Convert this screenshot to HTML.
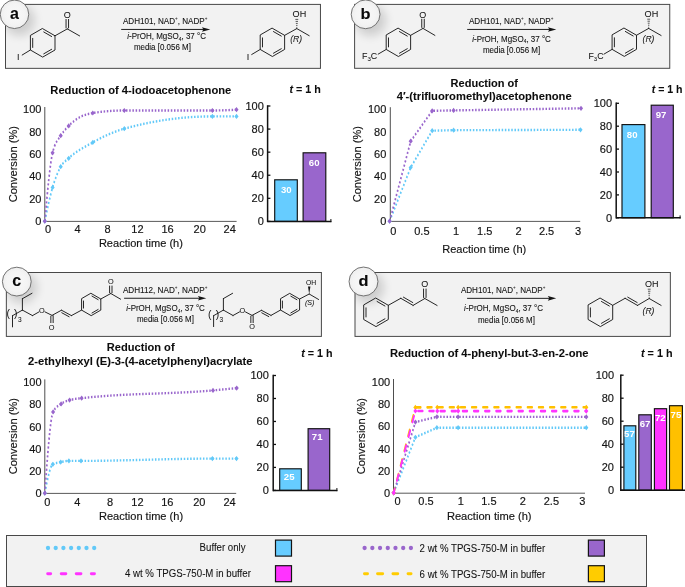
<!DOCTYPE html>
<html lang="en"><head><meta charset="utf-8"><title>Figure</title>
<style>html,body{margin:0;padding:0;background:#fff}svg{display:block}text{font-family:'Liberation Sans', Arial, Helvetica, sans-serif;}</style>
</head><body>
<svg width="685" height="587" viewBox="0 0 685 587" font-family="Liberation Sans, Arial, Helvetica, sans-serif" fill="#141414">
<defs>
<filter id="sh" x="-60%" y="-60%" width="260%" height="260%"><feGaussianBlur stdDeviation="5"/></filter>
<radialGradient id="bg" cx="50%" cy="50%" r="50%"><stop offset="0" stop-color="#f8f8f8"/><stop offset="0.7" stop-color="#f4f4f4"/><stop offset="1" stop-color="#eeeeee"/></radialGradient>
</defs>
<rect width="685" height="587" fill="#ffffff"/>
<clipPath id="cA"><rect x="5.5" y="4.4" width="314.95" height="63.95"/></clipPath>
<rect x="5.5" y="4.4" width="314.95" height="63.95" fill="#f2f2f2" stroke="#484848" stroke-width="1"/>
<g clip-path="url(#cA)"><circle cx="19.50" cy="20.30" r="15.25" fill="#000" opacity="0.15" filter="url(#sh)"/></g>
<circle cx="14.5" cy="14.3" r="14.25" fill="url(#bg)" stroke="#5c5c5c" stroke-width="0.85"/>
<text x="14.50" y="18.90" font-size="16" text-anchor="middle" font-weight="bold" fill="#0a0a0a" stroke="#0a0a0a" stroke-width="0.1">a</text>
<path d="M42.70 28.70 L55.00 35.80 L55.00 50.00 L42.70 57.10 L30.40 50.00 L30.40 35.80 Z" fill="none" stroke="#141414" stroke-width="0.92" stroke-linecap="round" stroke-linejoin="round"/>
<line x1="43.76" y1="31.97" x2="51.63" y2="36.51" stroke="#141414" stroke-width="0.92" stroke-linecap="round" />
<line x1="51.63" y1="49.29" x2="43.76" y2="53.83" stroke="#141414" stroke-width="0.92" stroke-linecap="round" />
<line x1="32.70" y1="47.44" x2="32.70" y2="38.36" stroke="#141414" stroke-width="0.92" stroke-linecap="round" />
<line x1="55.00" y1="35.80" x2="67.30" y2="28.90" stroke="#141414" stroke-width="0.92" stroke-linecap="round" />
<line x1="67.30" y1="28.90" x2="79.60" y2="35.90" stroke="#141414" stroke-width="0.92" stroke-linecap="round" />
<line x1="66.05" y1="28.30" x2="66.05" y2="19.00" stroke="#141414" stroke-width="0.92" stroke-linecap="butt" />
<line x1="68.55" y1="28.30" x2="68.55" y2="19.00" stroke="#141414" stroke-width="0.92" stroke-linecap="butt" />
<text x="67.30" y="17.70" font-size="9" text-anchor="middle" stroke="#141414" stroke-width="0.05">O</text>
<line x1="30.40" y1="50.00" x2="22.20" y2="55.00" stroke="#141414" stroke-width="0.92" stroke-linecap="round" />
<text x="18.30" y="60.20" font-size="9" text-anchor="middle" stroke="#141414" stroke-width="0.05">I</text>
<line x1="121.20" y1="29.45" x2="205.30" y2="29.45" stroke="#141414" stroke-width="0.95" stroke-linecap="butt" />
<path d="M210.30 29.45 L201.90 27.15 L203.40 29.45 L201.90 31.75 Z" fill="#141414"/>
<text x="122.90" y="23.60" font-size="8.5" textLength="84.50" lengthAdjust="spacingAndGlyphs" stroke="#141414" stroke-width="0.1">ADH101, NAD<tspan font-size="4.8" dy="-3.8" stroke-width="0">+</tspan><tspan dy="3.8">, NADP</tspan><tspan font-size="4.8" dy="-3.8" stroke-width="0">+</tspan></text>
<text x="127.30" y="39.30" font-size="8.5" textLength="78.70" lengthAdjust="spacingAndGlyphs" stroke="#141414" stroke-width="0.1"><tspan font-style="italic">i</tspan>-PrOH, MgSO<tspan font-size="5.2" dy="1.8">4</tspan><tspan dy="-1.8">, 37 °C</tspan></text>
<text x="133.90" y="49.80" font-size="8.5" textLength="57.00" lengthAdjust="spacingAndGlyphs" stroke="#141414" stroke-width="0.1">media [0.056 M]</text>
<path d="M272.40 28.30 L284.61 35.35 L284.61 49.45 L272.40 56.50 L260.19 49.45 L260.19 35.35 Z" fill="none" stroke="#141414" stroke-width="0.92" stroke-linecap="round" stroke-linejoin="round"/>
<line x1="273.45" y1="31.56" x2="281.26" y2="36.07" stroke="#141414" stroke-width="0.92" stroke-linecap="round" />
<line x1="281.26" y1="48.73" x2="273.45" y2="53.24" stroke="#141414" stroke-width="0.92" stroke-linecap="round" />
<line x1="262.49" y1="46.91" x2="262.49" y2="37.89" stroke="#141414" stroke-width="0.92" stroke-linecap="round" />
<line x1="284.61" y1="35.35" x2="296.80" y2="28.60" stroke="#141414" stroke-width="0.92" stroke-linecap="round" />
<line x1="296.80" y1="28.60" x2="309.20" y2="35.70" stroke="#141414" stroke-width="0.92" stroke-linecap="round" />
<line x1="296.39" y1="27.40" x2="297.21" y2="27.40" stroke="#141414" stroke-width="0.7" stroke-linecap="butt" />
<line x1="296.13" y1="25.40" x2="297.47" y2="25.40" stroke="#141414" stroke-width="0.7" stroke-linecap="butt" />
<line x1="295.87" y1="23.40" x2="297.73" y2="23.40" stroke="#141414" stroke-width="0.7" stroke-linecap="butt" />
<line x1="295.61" y1="21.40" x2="297.99" y2="21.40" stroke="#141414" stroke-width="0.7" stroke-linecap="butt" />
<line x1="295.35" y1="19.40" x2="298.25" y2="19.40" stroke="#141414" stroke-width="0.7" stroke-linecap="butt" />
<text x="292.60" y="17.30" font-size="9" textLength="13.60" lengthAdjust="spacingAndGlyphs" stroke="#141414" stroke-width="0.05">OH</text>
<text x="290.20" y="42.00" font-size="8.55" font-style="italic" stroke="#141414" stroke-width="0.05">(R)</text>
<line x1="260.19" y1="49.45" x2="251.70" y2="54.50" stroke="#141414" stroke-width="0.92" stroke-linecap="round" />
<text x="247.90" y="59.80" font-size="9" text-anchor="middle" stroke="#141414" stroke-width="0.05">I</text>
<clipPath id="cB"><rect x="354.6" y="4.4" width="315.15" height="63.90"/></clipPath>
<rect x="354.6" y="4.4" width="315.15" height="63.90" fill="#f2f2f2" stroke="#484848" stroke-width="1"/>
<g clip-path="url(#cB)"><circle cx="370.60" cy="20.30" r="15.40" fill="#000" opacity="0.15" filter="url(#sh)"/></g>
<circle cx="365.6" cy="14.3" r="14.4" fill="url(#bg)" stroke="#5c5c5c" stroke-width="0.85"/>
<text x="360.60" y="18.90" font-size="15.2" font-weight="bold" fill="#0a0a0a" textLength="10.00" lengthAdjust="spacingAndGlyphs" stroke="#0a0a0a" stroke-width="0.1">b</text>
<path d="M398.40 28.30 L410.61 35.35 L410.61 49.45 L398.40 56.50 L386.19 49.45 L386.19 35.35 Z" fill="none" stroke="#141414" stroke-width="0.92" stroke-linecap="round" stroke-linejoin="round"/>
<line x1="399.45" y1="31.56" x2="407.26" y2="36.07" stroke="#141414" stroke-width="0.92" stroke-linecap="round" />
<line x1="407.26" y1="48.73" x2="399.45" y2="53.24" stroke="#141414" stroke-width="0.92" stroke-linecap="round" />
<line x1="388.49" y1="46.91" x2="388.49" y2="37.89" stroke="#141414" stroke-width="0.92" stroke-linecap="round" />
<line x1="410.61" y1="35.35" x2="423.00" y2="28.40" stroke="#141414" stroke-width="0.92" stroke-linecap="round" />
<line x1="423.00" y1="28.40" x2="434.90" y2="35.40" stroke="#141414" stroke-width="0.92" stroke-linecap="round" />
<line x1="421.75" y1="27.80" x2="421.75" y2="18.80" stroke="#141414" stroke-width="0.92" stroke-linecap="butt" />
<line x1="424.25" y1="27.80" x2="424.25" y2="18.80" stroke="#141414" stroke-width="0.92" stroke-linecap="butt" />
<text x="422.80" y="17.50" font-size="9" text-anchor="middle" stroke="#141414" stroke-width="0.05">O</text>
<line x1="386.19" y1="49.45" x2="378.20" y2="54.10" stroke="#141414" stroke-width="0.92" stroke-linecap="round" />
<text x="362.00" y="59.40" font-size="9" textLength="15.20" lengthAdjust="spacingAndGlyphs" stroke="#141414" stroke-width="0.05">F<tspan font-size="6.2" dy="1.9">3</tspan><tspan dy="-1.9">C</tspan></text>
<line x1="467.20" y1="29.45" x2="551.30" y2="29.45" stroke="#141414" stroke-width="0.95" stroke-linecap="butt" />
<path d="M556.30 29.45 L547.90 27.15 L549.40 29.45 L547.90 31.75 Z" fill="#141414"/>
<text x="468.90" y="23.60" font-size="8.5" textLength="84.50" lengthAdjust="spacingAndGlyphs" stroke="#141414" stroke-width="0.1">ADH101, NAD<tspan font-size="4.8" dy="-3.8" stroke-width="0">+</tspan><tspan dy="3.8">, NADP</tspan><tspan font-size="4.8" dy="-3.8" stroke-width="0">+</tspan></text>
<text x="472.20" y="41.50" font-size="8.5" textLength="78.70" lengthAdjust="spacingAndGlyphs" stroke="#141414" stroke-width="0.1"><tspan font-style="italic">i</tspan>-PrOH, MgSO<tspan font-size="5.2" dy="1.8">4</tspan><tspan dy="-1.8">, 37 °C</tspan></text>
<text x="482.90" y="52.80" font-size="8.5" textLength="57.30" lengthAdjust="spacingAndGlyphs" stroke="#141414" stroke-width="0.1">media [0.056 M]</text>
<path d="M624.30 28.20 L636.51 35.25 L636.51 49.35 L624.30 56.40 L612.09 49.35 L612.09 35.25 Z" fill="none" stroke="#141414" stroke-width="0.92" stroke-linecap="round" stroke-linejoin="round"/>
<line x1="625.35" y1="31.46" x2="633.16" y2="35.97" stroke="#141414" stroke-width="0.92" stroke-linecap="round" />
<line x1="633.16" y1="48.63" x2="625.35" y2="53.14" stroke="#141414" stroke-width="0.92" stroke-linecap="round" />
<line x1="614.39" y1="46.81" x2="614.39" y2="37.79" stroke="#141414" stroke-width="0.92" stroke-linecap="round" />
<line x1="636.51" y1="35.25" x2="648.70" y2="28.40" stroke="#141414" stroke-width="0.92" stroke-linecap="round" />
<line x1="648.70" y1="28.40" x2="661.10" y2="35.50" stroke="#141414" stroke-width="0.92" stroke-linecap="round" />
<line x1="648.29" y1="27.20" x2="649.11" y2="27.20" stroke="#141414" stroke-width="0.7" stroke-linecap="butt" />
<line x1="648.03" y1="25.20" x2="649.37" y2="25.20" stroke="#141414" stroke-width="0.7" stroke-linecap="butt" />
<line x1="647.77" y1="23.20" x2="649.63" y2="23.20" stroke="#141414" stroke-width="0.7" stroke-linecap="butt" />
<line x1="647.51" y1="21.20" x2="649.89" y2="21.20" stroke="#141414" stroke-width="0.7" stroke-linecap="butt" />
<line x1="647.25" y1="19.20" x2="650.15" y2="19.20" stroke="#141414" stroke-width="0.7" stroke-linecap="butt" />
<text x="644.60" y="17.00" font-size="9" textLength="13.70" lengthAdjust="spacingAndGlyphs" stroke="#141414" stroke-width="0.05">OH</text>
<text x="642.60" y="41.60" font-size="8.55" font-style="italic" stroke="#141414" stroke-width="0.05">(R)</text>
<line x1="612.09" y1="49.35" x2="604.00" y2="54.10" stroke="#141414" stroke-width="0.92" stroke-linecap="round" />
<text x="588.50" y="59.40" font-size="9" textLength="15.00" lengthAdjust="spacingAndGlyphs" stroke="#141414" stroke-width="0.05">F<tspan font-size="6.2" dy="1.9">3</tspan><tspan dy="-1.9">C</tspan></text>
<clipPath id="cC"><rect x="6.35" y="272.5" width="315.05" height="63.90"/></clipPath>
<rect x="6.35" y="272.5" width="315.05" height="63.90" fill="#f2f2f2" stroke="#484848" stroke-width="1"/>
<g clip-path="url(#cC)"><circle cx="21.80" cy="287.60" r="15.40" fill="#000" opacity="0.15" filter="url(#sh)"/></g>
<circle cx="16.8" cy="281.6" r="14.4" fill="url(#bg)" stroke="#5c5c5c" stroke-width="0.85"/>
<text x="16.80" y="286.20" font-size="16" text-anchor="middle" font-weight="bold" fill="#0a0a0a" stroke="#0a0a0a" stroke-width="0.1">c</text>
<line x1="32.00" y1="293.30" x2="22.40" y2="298.70" stroke="#141414" stroke-width="0.92" stroke-linecap="round" />
<line x1="22.40" y1="298.70" x2="22.40" y2="310.10" stroke="#141414" stroke-width="0.92" stroke-linecap="round" />
<line x1="22.40" y1="310.10" x2="32.50" y2="315.60" stroke="#141414" stroke-width="0.92" stroke-linecap="round" />
<line x1="32.50" y1="315.60" x2="38.93" y2="311.93" stroke="#141414" stroke-width="0.92" stroke-linecap="round" />
<text x="41.80" y="312.95" font-size="7.3" text-anchor="middle" stroke="#141414" stroke-width="0.05">O</text>
<line x1="44.93" y1="311.87" x2="52.00" y2="315.40" stroke="#141414" stroke-width="0.92" stroke-linecap="round" />
<line x1="50.85" y1="315.90" x2="50.85" y2="323.00" stroke="#141414" stroke-width="0.92" stroke-linecap="butt" />
<line x1="53.15" y1="315.20" x2="53.15" y2="323.00" stroke="#141414" stroke-width="0.92" stroke-linecap="butt" />
<text x="51.70" y="329.75" font-size="7.3" text-anchor="middle" stroke="#141414" stroke-width="0.05">O</text>
<line x1="52.00" y1="315.40" x2="61.50" y2="310.20" stroke="#141414" stroke-width="0.92" stroke-linecap="round" />
<line x1="61.50" y1="310.20" x2="71.40" y2="315.60" stroke="#141414" stroke-width="0.92" stroke-linecap="round" />
<line x1="61.78" y1="312.75" x2="69.11" y2="316.74" stroke="#141414" stroke-width="0.92" stroke-linecap="round" />
<line x1="22.40" y1="310.10" x2="12.50" y2="315.70" stroke="#141414" stroke-width="0.92" stroke-linecap="round" />
<line x1="12.50" y1="315.70" x2="12.50" y2="326.90" stroke="#141414" stroke-width="0.92" stroke-linecap="round" />
<text x="8.30" y="317.30" font-size="10.3" text-anchor="middle">(</text>
<text x="15.80" y="317.30" font-size="10.3" text-anchor="middle">)</text>
<text x="19.90" y="322.15" font-size="6.5" text-anchor="middle" stroke="#141414" stroke-width="0.05">3</text>
<path d="M91.20 293.45 L100.81 299.00 L100.81 310.10 L91.20 315.65 L81.59 310.10 L81.59 299.00 Z" fill="none" stroke="#141414" stroke-width="0.92" stroke-linecap="round" stroke-linejoin="round"/>
<line x1="91.98" y1="296.09" x2="98.13" y2="299.65" stroke="#141414" stroke-width="0.92" stroke-linecap="round" />
<line x1="98.13" y1="309.45" x2="91.98" y2="313.01" stroke="#141414" stroke-width="0.92" stroke-linecap="round" />
<line x1="83.49" y1="308.10" x2="83.49" y2="301.00" stroke="#141414" stroke-width="0.92" stroke-linecap="round" />
<line x1="71.40" y1="315.60" x2="81.59" y2="310.10" stroke="#141414" stroke-width="0.92" stroke-linecap="round" />
<line x1="100.81" y1="299.00" x2="110.80" y2="293.50" stroke="#141414" stroke-width="0.92" stroke-linecap="round" />
<line x1="110.80" y1="293.50" x2="120.60" y2="299.20" stroke="#141414" stroke-width="0.92" stroke-linecap="round" />
<line x1="109.60" y1="293.10" x2="109.60" y2="285.60" stroke="#141414" stroke-width="0.92" stroke-linecap="butt" />
<line x1="112.00" y1="293.10" x2="112.00" y2="285.60" stroke="#141414" stroke-width="0.92" stroke-linecap="butt" />
<text x="110.80" y="283.90" font-size="7.3" text-anchor="middle" stroke="#141414" stroke-width="0.05">O</text>
<line x1="124.10" y1="298.25" x2="201.30" y2="298.25" stroke="#141414" stroke-width="0.95" stroke-linecap="butt" />
<path d="M206.30 298.25 L197.90 295.95 L199.40 298.25 L197.90 300.55 Z" fill="#141414"/>
<text x="122.90" y="292.60" font-size="8.5" textLength="84.50" lengthAdjust="spacingAndGlyphs" stroke="#141414" stroke-width="0.1">ADH112, NAD<tspan font-size="4.8" dy="-3.8" stroke-width="0">+</tspan><tspan dy="3.8">, NADP</tspan><tspan font-size="4.8" dy="-3.8" stroke-width="0">+</tspan></text>
<text x="126.20" y="310.90" font-size="8.5" textLength="78.70" lengthAdjust="spacingAndGlyphs" stroke="#141414" stroke-width="0.1"><tspan font-style="italic">i</tspan>-PrOH, MgSO<tspan font-size="5.2" dy="1.8">4</tspan><tspan dy="-1.8">, 37 °C</tspan></text>
<text x="136.90" y="322.30" font-size="8.5" textLength="57.00" lengthAdjust="spacingAndGlyphs" stroke="#141414" stroke-width="0.1">media [0.056 M]</text>
<line x1="232.60" y1="293.30" x2="223.40" y2="298.60" stroke="#141414" stroke-width="0.92" stroke-linecap="round" />
<line x1="223.40" y1="298.60" x2="223.40" y2="310.10" stroke="#141414" stroke-width="0.92" stroke-linecap="round" />
<line x1="223.40" y1="310.10" x2="233.00" y2="315.50" stroke="#141414" stroke-width="0.92" stroke-linecap="round" />
<line x1="233.00" y1="315.50" x2="239.51" y2="311.90" stroke="#141414" stroke-width="0.92" stroke-linecap="round" />
<text x="242.40" y="312.95" font-size="7.3" text-anchor="middle" stroke="#141414" stroke-width="0.05">O</text>
<line x1="245.49" y1="311.94" x2="252.00" y2="315.40" stroke="#141414" stroke-width="0.92" stroke-linecap="round" />
<line x1="250.85" y1="315.90" x2="250.85" y2="323.00" stroke="#141414" stroke-width="0.92" stroke-linecap="butt" />
<line x1="253.15" y1="315.20" x2="253.15" y2="323.00" stroke="#141414" stroke-width="0.92" stroke-linecap="butt" />
<text x="252.00" y="329.40" font-size="7.3" text-anchor="middle" stroke="#141414" stroke-width="0.05">O</text>
<line x1="252.00" y1="315.40" x2="261.50" y2="310.30" stroke="#141414" stroke-width="0.92" stroke-linecap="round" />
<line x1="261.50" y1="310.30" x2="271.00" y2="315.40" stroke="#141414" stroke-width="0.92" stroke-linecap="round" />
<line x1="261.74" y1="312.81" x2="268.77" y2="316.59" stroke="#141414" stroke-width="0.92" stroke-linecap="round" />
<line x1="223.40" y1="310.10" x2="213.60" y2="315.70" stroke="#141414" stroke-width="0.92" stroke-linecap="round" />
<line x1="213.60" y1="315.70" x2="213.60" y2="326.60" stroke="#141414" stroke-width="0.92" stroke-linecap="round" />
<text x="209.80" y="318.40" font-size="10.3" text-anchor="middle">(</text>
<text x="217.50" y="318.40" font-size="10.3" text-anchor="middle">)</text>
<text x="221.30" y="322.45" font-size="6.5" text-anchor="middle" stroke="#141414" stroke-width="0.05">3</text>
<path d="M290.05 293.55 L299.58 299.05 L299.58 310.05 L290.05 315.55 L280.52 310.05 L280.52 299.05 Z" fill="none" stroke="#141414" stroke-width="0.92" stroke-linecap="round" stroke-linejoin="round"/>
<line x1="290.81" y1="296.19" x2="296.91" y2="299.71" stroke="#141414" stroke-width="0.92" stroke-linecap="round" />
<line x1="296.91" y1="309.39" x2="290.81" y2="312.91" stroke="#141414" stroke-width="0.92" stroke-linecap="round" />
<line x1="282.42" y1="308.07" x2="282.42" y2="301.03" stroke="#141414" stroke-width="0.92" stroke-linecap="round" />
<line x1="271.00" y1="315.40" x2="280.52" y2="310.05" stroke="#141414" stroke-width="0.92" stroke-linecap="round" />
<line x1="299.58" y1="299.05" x2="309.20" y2="294.00" stroke="#141414" stroke-width="0.92" stroke-linecap="round" />
<line x1="309.20" y1="294.00" x2="318.60" y2="299.50" stroke="#141414" stroke-width="0.92" stroke-linecap="round" />
<path d="M309.20 294.00 L308.00 286.60 L310.40 286.60 Z" fill="#141414"/>
<text x="305.90" y="284.90" font-size="7.2" textLength="10.20" lengthAdjust="spacingAndGlyphs" stroke="#141414" stroke-width="0.05">OH</text>
<text x="304.90" y="304.80" font-size="7.1" font-style="italic" stroke="#141414" stroke-width="0.05">(S)</text>
<clipPath id="cD"><rect x="355.0" y="272.5" width="315.35" height="63.90"/></clipPath>
<rect x="355.0" y="272.5" width="315.35" height="63.90" fill="#f2f2f2" stroke="#484848" stroke-width="1"/>
<g clip-path="url(#cD)"><circle cx="368.50" cy="287.50" r="15.45" fill="#000" opacity="0.15" filter="url(#sh)"/></g>
<circle cx="363.5" cy="281.5" r="14.45" fill="url(#bg)" stroke="#5c5c5c" stroke-width="0.85"/>
<text x="358.50" y="286.10" font-size="15.2" font-weight="bold" fill="#0a0a0a" textLength="10.00" lengthAdjust="spacingAndGlyphs" stroke="#0a0a0a" stroke-width="0.1">d</text>
<path d="M376.00 298.20 L388.30 305.30 L388.30 319.50 L376.00 326.60 L363.70 319.50 L363.70 305.30 Z" fill="none" stroke="#141414" stroke-width="0.92" stroke-linecap="round" stroke-linejoin="round"/>
<line x1="377.06" y1="301.47" x2="384.93" y2="306.01" stroke="#141414" stroke-width="0.92" stroke-linecap="round" />
<line x1="384.93" y1="318.79" x2="377.06" y2="323.33" stroke="#141414" stroke-width="0.92" stroke-linecap="round" />
<line x1="366.00" y1="316.94" x2="366.00" y2="307.86" stroke="#141414" stroke-width="0.92" stroke-linecap="round" />
<line x1="388.30" y1="305.30" x2="400.80" y2="298.30" stroke="#141414" stroke-width="0.92" stroke-linecap="round" />
<line x1="400.80" y1="298.30" x2="413.10" y2="305.40" stroke="#141414" stroke-width="0.92" stroke-linecap="round" />
<line x1="403.43" y1="297.16" x2="412.77" y2="302.56" stroke="#141414" stroke-width="0.92" stroke-linecap="round" />
<line x1="413.10" y1="305.40" x2="424.80" y2="298.50" stroke="#141414" stroke-width="0.92" stroke-linecap="round" />
<line x1="424.80" y1="298.50" x2="437.10" y2="305.50" stroke="#141414" stroke-width="0.92" stroke-linecap="round" />
<line x1="423.55" y1="297.90" x2="423.55" y2="288.60" stroke="#141414" stroke-width="0.92" stroke-linecap="butt" />
<line x1="426.05" y1="297.90" x2="426.05" y2="288.60" stroke="#141414" stroke-width="0.92" stroke-linecap="butt" />
<text x="424.70" y="287.20" font-size="9" text-anchor="middle" stroke="#141414" stroke-width="0.05">O</text>
<line x1="467.10" y1="298.35" x2="551.20" y2="298.35" stroke="#141414" stroke-width="0.95" stroke-linecap="butt" />
<path d="M556.20 298.35 L547.80 296.05 L549.30 298.35 L547.80 300.65 Z" fill="#141414"/>
<text x="460.90" y="292.90" font-size="8.5" textLength="84.40" lengthAdjust="spacingAndGlyphs" stroke="#141414" stroke-width="0.1">ADH101, NAD<tspan font-size="4.8" dy="-3.8" stroke-width="0">+</tspan><tspan dy="3.8">, NADP</tspan><tspan font-size="4.8" dy="-3.8" stroke-width="0">+</tspan></text>
<text x="464.10" y="311.10" font-size="8.5" textLength="78.90" lengthAdjust="spacingAndGlyphs" stroke="#141414" stroke-width="0.1"><tspan font-style="italic">i</tspan>-PrOH, MgSO<tspan font-size="5.2" dy="1.8">4</tspan><tspan dy="-1.8">, 37 °C</tspan></text>
<text x="478.00" y="322.50" font-size="8.5" textLength="56.90" lengthAdjust="spacingAndGlyphs" stroke="#141414" stroke-width="0.1">media [0.056 M]</text>
<path d="M600.40 298.20 L612.70 305.30 L612.70 319.50 L600.40 326.60 L588.10 319.50 L588.10 305.30 Z" fill="none" stroke="#141414" stroke-width="0.92" stroke-linecap="round" stroke-linejoin="round"/>
<line x1="601.46" y1="301.47" x2="609.33" y2="306.01" stroke="#141414" stroke-width="0.92" stroke-linecap="round" />
<line x1="609.33" y1="318.79" x2="601.46" y2="323.33" stroke="#141414" stroke-width="0.92" stroke-linecap="round" />
<line x1="590.40" y1="316.94" x2="590.40" y2="307.86" stroke="#141414" stroke-width="0.92" stroke-linecap="round" />
<line x1="612.70" y1="305.30" x2="625.10" y2="298.30" stroke="#141414" stroke-width="0.92" stroke-linecap="round" />
<line x1="625.10" y1="298.30" x2="637.50" y2="305.40" stroke="#141414" stroke-width="0.92" stroke-linecap="round" />
<line x1="627.73" y1="297.16" x2="637.15" y2="302.55" stroke="#141414" stroke-width="0.92" stroke-linecap="round" />
<line x1="637.50" y1="305.40" x2="649.20" y2="298.50" stroke="#141414" stroke-width="0.92" stroke-linecap="round" />
<line x1="649.20" y1="298.50" x2="661.10" y2="305.40" stroke="#141414" stroke-width="0.92" stroke-linecap="round" />
<line x1="648.79" y1="297.29" x2="649.61" y2="297.29" stroke="#141414" stroke-width="0.7" stroke-linecap="butt" />
<line x1="648.53" y1="295.27" x2="649.87" y2="295.27" stroke="#141414" stroke-width="0.7" stroke-linecap="butt" />
<line x1="648.27" y1="293.25" x2="650.13" y2="293.25" stroke="#141414" stroke-width="0.7" stroke-linecap="butt" />
<line x1="648.01" y1="291.23" x2="650.39" y2="291.23" stroke="#141414" stroke-width="0.7" stroke-linecap="butt" />
<line x1="647.75" y1="289.21" x2="650.65" y2="289.21" stroke="#141414" stroke-width="0.7" stroke-linecap="butt" />
<text x="645.10" y="286.90" font-size="9" textLength="13.50" lengthAdjust="spacingAndGlyphs" stroke="#141414" stroke-width="0.05">OH</text>
<text x="642.60" y="314.00" font-size="8.55" font-style="italic" stroke="#141414" stroke-width="0.05">(R)</text>
<text x="50.30" y="94.00" font-size="11" font-weight="bold" fill="#0d0d0d" textLength="181.00" lengthAdjust="spacingAndGlyphs" stroke="#0d0d0d" stroke-width="0.06">Reduction of 4-iodoacetophenone</text>
<line x1="44.80" y1="107.00" x2="44.80" y2="221.60" stroke="#2e2e2e" stroke-width="0.85" stroke-linecap="butt" />
<line x1="44.40" y1="221.40" x2="236.60" y2="221.40" stroke="#2e2e2e" stroke-width="0.8" stroke-linecap="butt" />
<text x="41.40" y="225.15" font-size="11" text-anchor="end" stroke="#141414" stroke-width="0.16">0</text>
<text x="41.40" y="202.77" font-size="11" text-anchor="end" stroke="#141414" stroke-width="0.16">20</text>
<text x="41.40" y="180.39" font-size="11" text-anchor="end" stroke="#141414" stroke-width="0.16">40</text>
<text x="41.40" y="158.01" font-size="11" text-anchor="end" stroke="#141414" stroke-width="0.16">60</text>
<text x="41.40" y="135.63" font-size="11" text-anchor="end" stroke="#141414" stroke-width="0.16">80</text>
<text x="41.40" y="113.25" font-size="11" text-anchor="end" stroke="#141414" stroke-width="0.16">100</text>
<text x="48.00" y="233.40" font-size="11" text-anchor="middle" stroke="#141414" stroke-width="0.16">0</text>
<text x="77.50" y="233.40" font-size="11" text-anchor="middle" stroke="#141414" stroke-width="0.16">4</text>
<text x="107.50" y="233.40" font-size="11" text-anchor="middle" stroke="#141414" stroke-width="0.16">8</text>
<text x="137.40" y="233.40" font-size="11" text-anchor="middle" stroke="#141414" stroke-width="0.16">12</text>
<text x="167.60" y="233.40" font-size="11" text-anchor="middle" stroke="#141414" stroke-width="0.16">16</text>
<text x="199.70" y="233.40" font-size="11" text-anchor="middle" stroke="#141414" stroke-width="0.16">20</text>
<text x="229.70" y="233.40" font-size="11" text-anchor="middle" stroke="#141414" stroke-width="0.16">24</text>
<text x="98.90" y="247.30" font-size="11" textLength="84.00" lengthAdjust="spacingAndGlyphs" stroke="#141414" stroke-width="0.16">Reaction time (h)</text>
<text transform="translate(17.30 164.20) rotate(-90)" font-size="11" text-anchor="middle" stroke="#141414" stroke-width="0.16" textLength="76.2" lengthAdjust="spacingAndGlyphs">Conversion (%)</text>
<g transform="scale(1 1.4)">
<path d="M44.80 158.00 C47.40 149.14 50.00 140.29 52.60 133.86 C55.30 127.18 58.00 122.54 60.70 119.07 C63.37 115.65 66.03 114.89 68.70 113.07 C76.73 107.60 84.77 104.94 92.80 101.71 C103.30 97.50 113.80 94.02 124.30 91.93 C153.67 86.07 183.03 83.14 212.40 83.14 C220.43 83.14 228.47 83.14 236.50 83.14" fill="none" stroke="#62c9f8" stroke-width="1.7" stroke-linecap="butt" stroke-linejoin="round" stroke-dasharray="1.5 1.7"/>
</g>
<path d="M42.75 221.20 L44.80 218.60 L46.85 221.20 L44.80 223.80 Z" fill="#62c9f8"/>
<path d="M50.55 187.40 L52.60 184.80 L54.65 187.40 L52.60 190.00 Z" fill="#62c9f8"/>
<path d="M58.65 166.70 L60.70 164.10 L62.75 166.70 L60.70 169.30 Z" fill="#62c9f8"/>
<path d="M66.65 158.30 L68.70 155.70 L70.75 158.30 L68.70 160.90 Z" fill="#62c9f8"/>
<path d="M90.75 142.40 L92.80 139.80 L94.85 142.40 L92.80 145.00 Z" fill="#62c9f8"/>
<path d="M122.25 128.70 L124.30 126.10 L126.35 128.70 L124.30 131.30 Z" fill="#62c9f8"/>
<path d="M210.35 116.40 L212.40 113.80 L214.45 116.40 L212.40 119.00 Z" fill="#62c9f8"/>
<path d="M234.45 116.40 L236.50 113.80 L238.55 116.40 L236.50 119.00 Z" fill="#62c9f8"/>
<g transform="scale(1 1.4)">
<path d="M44.80 158.00 C47.40 137.49 50.00 116.98 52.60 109.14 C55.30 101.00 58.00 100.14 60.70 96.93 C63.37 93.76 66.03 91.93 68.70 89.93 C76.73 83.89 84.77 81.63 92.80 80.71 C103.30 79.52 113.80 78.93 124.30 78.93 C153.67 78.93 183.03 78.93 212.40 78.93 C220.43 78.93 228.47 78.64 236.50 78.36" fill="none" stroke="#9966cc" stroke-width="1.7" stroke-linecap="butt" stroke-linejoin="round" stroke-dasharray="1.5 1.7"/>
</g>
<path d="M42.75 221.20 L44.80 218.60 L46.85 221.20 L44.80 223.80 Z" fill="#9966cc"/>
<path d="M50.55 152.80 L52.60 150.20 L54.65 152.80 L52.60 155.40 Z" fill="#9966cc"/>
<path d="M58.65 135.70 L60.70 133.10 L62.75 135.70 L60.70 138.30 Z" fill="#9966cc"/>
<path d="M66.65 125.90 L68.70 123.30 L70.75 125.90 L68.70 128.50 Z" fill="#9966cc"/>
<path d="M90.75 113.00 L92.80 110.40 L94.85 113.00 L92.80 115.60 Z" fill="#9966cc"/>
<path d="M122.25 110.50 L124.30 107.90 L126.35 110.50 L124.30 113.10 Z" fill="#9966cc"/>
<path d="M210.35 110.50 L212.40 107.90 L214.45 110.50 L212.40 113.10 Z" fill="#9966cc"/>
<path d="M234.45 109.70 L236.50 107.10 L238.55 109.70 L236.50 112.30 Z" fill="#9966cc"/>
<text x="289.40" y="92.80" font-size="11" font-weight="bold" fill="#0d0d0d" textLength="31.40" lengthAdjust="spacingAndGlyphs" stroke="#0d0d0d" stroke-width="0.06"><tspan font-style="italic">t</tspan> = 1 h</text>
<rect x="274.70" y="179.80" width="22.60" height="41.60" fill="#66ccff" stroke="#111" stroke-width="1.15"/>
<text x="286.30" y="192.50" font-size="9.6" text-anchor="middle" font-weight="bold" fill="#fff">30</text>
<rect x="303.10" y="152.80" width="22.70" height="68.60" fill="#9966cc" stroke="#111" stroke-width="1.15"/>
<text x="314.20" y="166.00" font-size="9.6" text-anchor="middle" font-weight="bold" fill="#fff">60</text>
<line x1="267.60" y1="105.25" x2="267.60" y2="222.15" stroke="#111" stroke-width="1.5" stroke-linecap="butt" />
<line x1="267.60" y1="221.40" x2="331.40" y2="221.40" stroke="#111" stroke-width="1.5" stroke-linecap="butt" />
<line x1="330.90" y1="222.15" x2="330.90" y2="219.00" stroke="#111" stroke-width="1" stroke-linecap="butt" />
<line x1="267.60" y1="221.40" x2="270.40" y2="221.40" stroke="#111" stroke-width="1.3" stroke-linecap="butt" />
<text x="263.80" y="225.35" font-size="11" text-anchor="end" stroke="#141414" stroke-width="0.16">0</text>
<line x1="267.60" y1="198.32" x2="270.40" y2="198.32" stroke="#111" stroke-width="1.3" stroke-linecap="butt" />
<text x="263.80" y="202.27" font-size="11" text-anchor="end" stroke="#141414" stroke-width="0.16">20</text>
<line x1="267.60" y1="175.24" x2="270.40" y2="175.24" stroke="#111" stroke-width="1.3" stroke-linecap="butt" />
<text x="263.80" y="179.19" font-size="11" text-anchor="end" stroke="#141414" stroke-width="0.16">40</text>
<line x1="267.60" y1="152.16" x2="270.40" y2="152.16" stroke="#111" stroke-width="1.3" stroke-linecap="butt" />
<text x="263.80" y="156.11" font-size="11" text-anchor="end" stroke="#141414" stroke-width="0.16">60</text>
<line x1="267.60" y1="129.08" x2="270.40" y2="129.08" stroke="#111" stroke-width="1.3" stroke-linecap="butt" />
<text x="263.80" y="133.03" font-size="11" text-anchor="end" stroke="#141414" stroke-width="0.16">80</text>
<line x1="267.60" y1="106.00" x2="270.40" y2="106.00" stroke="#111" stroke-width="1.3" stroke-linecap="butt" />
<text x="263.80" y="109.95" font-size="11" text-anchor="end" stroke="#141414" stroke-width="0.16">100</text>
<text x="450.60" y="86.70" font-size="11" font-weight="bold" fill="#0d0d0d" textLength="67.40" lengthAdjust="spacingAndGlyphs" stroke="#0d0d0d" stroke-width="0.06">Reduction of</text>
<text x="396.70" y="100.40" font-size="11" font-weight="bold" fill="#0d0d0d" textLength="175.00" lengthAdjust="spacingAndGlyphs" stroke="#0d0d0d" stroke-width="0.06">4′-(trifluoromethyl)acetophenone</text>
<line x1="390.30" y1="107.20" x2="390.30" y2="221.60" stroke="#2e2e2e" stroke-width="0.85" stroke-linecap="butt" />
<line x1="389.90" y1="221.40" x2="580.20" y2="221.40" stroke="#2e2e2e" stroke-width="0.8" stroke-linecap="butt" />
<text x="386.30" y="225.15" font-size="11" text-anchor="end" stroke="#141414" stroke-width="0.16">0</text>
<text x="386.30" y="202.81" font-size="11" text-anchor="end" stroke="#141414" stroke-width="0.16">20</text>
<text x="386.30" y="180.47" font-size="11" text-anchor="end" stroke="#141414" stroke-width="0.16">40</text>
<text x="386.30" y="158.13" font-size="11" text-anchor="end" stroke="#141414" stroke-width="0.16">60</text>
<text x="386.30" y="135.79" font-size="11" text-anchor="end" stroke="#141414" stroke-width="0.16">80</text>
<text x="386.30" y="113.45" font-size="11" text-anchor="end" stroke="#141414" stroke-width="0.16">100</text>
<text x="393.40" y="234.50" font-size="11" text-anchor="middle" stroke="#141414" stroke-width="0.16">0</text>
<text x="421.90" y="234.50" font-size="11" text-anchor="middle" stroke="#141414" stroke-width="0.16">0.5</text>
<text x="456.10" y="234.50" font-size="11" text-anchor="middle" stroke="#141414" stroke-width="0.16">1</text>
<text x="484.70" y="234.50" font-size="11" text-anchor="middle" stroke="#141414" stroke-width="0.16">1.5</text>
<text x="518.50" y="234.50" font-size="11" text-anchor="middle" stroke="#141414" stroke-width="0.16">2</text>
<text x="546.60" y="234.50" font-size="11" text-anchor="middle" stroke="#141414" stroke-width="0.16">2.5</text>
<text x="578.10" y="234.50" font-size="11" text-anchor="middle" stroke="#141414" stroke-width="0.16">3</text>
<text x="442.20" y="252.60" font-size="11" textLength="84.10" lengthAdjust="spacingAndGlyphs" stroke="#141414" stroke-width="0.16">Reaction time (h)</text>
<text transform="translate(361.20 164.20) rotate(-90)" font-size="11" text-anchor="middle" stroke="#141414" stroke-width="0.16" textLength="76.2" lengthAdjust="spacingAndGlyphs">Conversion (%)</text>
<g transform="scale(1 1.4)">
<path d="M389.60 158.00 L410.70 119.64 L432.20 93.36 L453.60 93.00 L580.50 92.71" fill="none" stroke="#62c9f8" stroke-width="1.7" stroke-linecap="butt" stroke-linejoin="round" stroke-dasharray="1.5 1.7"/>
</g>
<path d="M387.55 221.20 L389.60 218.60 L391.65 221.20 L389.60 223.80 Z" fill="#62c9f8"/>
<path d="M408.65 167.50 L410.70 164.90 L412.75 167.50 L410.70 170.10 Z" fill="#62c9f8"/>
<path d="M430.15 130.70 L432.20 128.10 L434.25 130.70 L432.20 133.30 Z" fill="#62c9f8"/>
<path d="M451.55 130.20 L453.60 127.60 L455.65 130.20 L453.60 132.80 Z" fill="#62c9f8"/>
<path d="M578.45 129.80 L580.50 127.20 L582.55 129.80 L580.50 132.40 Z" fill="#62c9f8"/>
<g transform="scale(1 1.4)">
<path d="M389.60 158.00 L410.70 100.86 L432.20 79.14 L453.60 78.86 L581.00 77.36" fill="none" stroke="#9966cc" stroke-width="1.7" stroke-linecap="butt" stroke-linejoin="round" stroke-dasharray="1.5 1.7"/>
</g>
<path d="M387.55 221.20 L389.60 218.60 L391.65 221.20 L389.60 223.80 Z" fill="#9966cc"/>
<path d="M408.65 141.20 L410.70 138.60 L412.75 141.20 L410.70 143.80 Z" fill="#9966cc"/>
<path d="M430.15 110.80 L432.20 108.20 L434.25 110.80 L432.20 113.40 Z" fill="#9966cc"/>
<path d="M451.55 110.40 L453.60 107.80 L455.65 110.40 L453.60 113.00 Z" fill="#9966cc"/>
<path d="M578.95 108.30 L581.00 105.70 L583.05 108.30 L581.00 110.90 Z" fill="#9966cc"/>
<text x="651.70" y="92.80" font-size="11" font-weight="bold" fill="#0d0d0d" textLength="30.90" lengthAdjust="spacingAndGlyphs" stroke="#0d0d0d" stroke-width="0.06"><tspan font-style="italic">t</tspan> = 1 h</text>
<rect x="622.00" y="124.60" width="22.90" height="93.20" fill="#66ccff" stroke="#111" stroke-width="1.15"/>
<text x="632.20" y="137.70" font-size="9.6" text-anchor="middle" font-weight="bold" fill="#fff">80</text>
<rect x="651.20" y="105.20" width="22.10" height="112.60" fill="#9966cc" stroke="#111" stroke-width="1.15"/>
<text x="661.10" y="118.20" font-size="9.6" text-anchor="middle" font-weight="bold" fill="#fff">97</text>
<line x1="616.20" y1="102.55" x2="616.20" y2="218.55" stroke="#111" stroke-width="1.5" stroke-linecap="butt" />
<line x1="616.20" y1="217.80" x2="680.60" y2="217.80" stroke="#111" stroke-width="1.5" stroke-linecap="butt" />
<line x1="680.10" y1="218.55" x2="680.10" y2="215.40" stroke="#111" stroke-width="1" stroke-linecap="butt" />
<line x1="616.20" y1="217.80" x2="619.00" y2="217.80" stroke="#111" stroke-width="1.3" stroke-linecap="butt" />
<text x="612.10" y="221.75" font-size="11" text-anchor="end" stroke="#141414" stroke-width="0.16">0</text>
<line x1="616.20" y1="194.90" x2="619.00" y2="194.90" stroke="#111" stroke-width="1.3" stroke-linecap="butt" />
<text x="612.10" y="198.85" font-size="11" text-anchor="end" stroke="#141414" stroke-width="0.16">20</text>
<line x1="616.20" y1="172.00" x2="619.00" y2="172.00" stroke="#111" stroke-width="1.3" stroke-linecap="butt" />
<text x="612.10" y="175.95" font-size="11" text-anchor="end" stroke="#141414" stroke-width="0.16">40</text>
<line x1="616.20" y1="149.10" x2="619.00" y2="149.10" stroke="#111" stroke-width="1.3" stroke-linecap="butt" />
<text x="612.10" y="153.05" font-size="11" text-anchor="end" stroke="#141414" stroke-width="0.16">60</text>
<line x1="616.20" y1="126.20" x2="619.00" y2="126.20" stroke="#111" stroke-width="1.3" stroke-linecap="butt" />
<text x="612.10" y="130.15" font-size="11" text-anchor="end" stroke="#141414" stroke-width="0.16">80</text>
<line x1="616.20" y1="103.30" x2="619.00" y2="103.30" stroke="#111" stroke-width="1.3" stroke-linecap="butt" />
<text x="612.10" y="107.25" font-size="11" text-anchor="end" stroke="#141414" stroke-width="0.16">100</text>
<text x="106.80" y="351.10" font-size="11" font-weight="bold" fill="#0d0d0d" textLength="67.80" lengthAdjust="spacingAndGlyphs" stroke="#0d0d0d" stroke-width="0.06">Reduction of</text>
<text x="28.10" y="364.80" font-size="11" font-weight="bold" fill="#0d0d0d" textLength="224.40" lengthAdjust="spacingAndGlyphs" stroke="#0d0d0d" stroke-width="0.06">2-ethylhexyl (E)-3-(4-acetylphenyl)acrylate</text>
<line x1="44.80" y1="379.40" x2="44.80" y2="493.60" stroke="#2e2e2e" stroke-width="0.85" stroke-linecap="butt" />
<line x1="44.40" y1="493.40" x2="236.20" y2="493.40" stroke="#2e2e2e" stroke-width="0.8" stroke-linecap="butt" />
<text x="41.50" y="497.15" font-size="11" text-anchor="end" stroke="#141414" stroke-width="0.16">0</text>
<text x="41.50" y="474.95" font-size="11" text-anchor="end" stroke="#141414" stroke-width="0.16">20</text>
<text x="41.50" y="452.75" font-size="11" text-anchor="end" stroke="#141414" stroke-width="0.16">40</text>
<text x="41.50" y="430.55" font-size="11" text-anchor="end" stroke="#141414" stroke-width="0.16">60</text>
<text x="41.50" y="408.35" font-size="11" text-anchor="end" stroke="#141414" stroke-width="0.16">80</text>
<text x="41.50" y="386.15" font-size="11" text-anchor="end" stroke="#141414" stroke-width="0.16">100</text>
<text x="47.30" y="505.60" font-size="11" text-anchor="middle" stroke="#141414" stroke-width="0.16">0</text>
<text x="77.30" y="505.60" font-size="11" text-anchor="middle" stroke="#141414" stroke-width="0.16">4</text>
<text x="110.10" y="505.60" font-size="11" text-anchor="middle" stroke="#141414" stroke-width="0.16">8</text>
<text x="137.40" y="505.60" font-size="11" text-anchor="middle" stroke="#141414" stroke-width="0.16">12</text>
<text x="167.30" y="505.60" font-size="11" text-anchor="middle" stroke="#141414" stroke-width="0.16">16</text>
<text x="199.30" y="505.60" font-size="11" text-anchor="middle" stroke="#141414" stroke-width="0.16">20</text>
<text x="229.60" y="505.60" font-size="11" text-anchor="middle" stroke="#141414" stroke-width="0.16">24</text>
<text x="98.90" y="520.00" font-size="11" textLength="84.20" lengthAdjust="spacingAndGlyphs" stroke="#141414" stroke-width="0.16">Reaction time (h)</text>
<text transform="translate(16.70 436.20) rotate(-90)" font-size="11" text-anchor="middle" stroke="#141414" stroke-width="0.16" textLength="76.2" lengthAdjust="spacingAndGlyphs">Conversion (%)</text>
<g transform="scale(1 1.4)">
<path d="M44.80 352.29 C47.47 342.49 50.13 332.70 52.80 331.64 C55.43 330.60 58.07 330.47 60.70 330.07 C63.43 329.65 66.17 329.21 68.90 329.21 C72.93 329.21 76.97 329.21 81.00 329.21 C124.80 329.21 168.60 327.57 212.40 327.57 C220.43 327.57 228.47 327.57 236.50 327.57" fill="none" stroke="#62c9f8" stroke-width="1.7" stroke-linecap="butt" stroke-linejoin="round" stroke-dasharray="1.5 1.7"/>
</g>
<path d="M42.75 493.20 L44.80 490.60 L46.85 493.20 L44.80 495.80 Z" fill="#62c9f8"/>
<path d="M50.75 464.30 L52.80 461.70 L54.85 464.30 L52.80 466.90 Z" fill="#62c9f8"/>
<path d="M58.65 462.10 L60.70 459.50 L62.75 462.10 L60.70 464.70 Z" fill="#62c9f8"/>
<path d="M66.85 460.90 L68.90 458.30 L70.95 460.90 L68.90 463.50 Z" fill="#62c9f8"/>
<path d="M78.95 460.90 L81.00 458.30 L83.05 460.90 L81.00 463.50 Z" fill="#62c9f8"/>
<path d="M210.35 458.60 L212.40 456.00 L214.45 458.60 L212.40 461.20 Z" fill="#62c9f8"/>
<path d="M234.45 458.60 L236.50 456.00 L238.55 458.60 L236.50 461.20 Z" fill="#62c9f8"/>
<g transform="scale(1 1.4)">
<path d="M44.80 352.29 C47.57 325.23 50.33 298.17 53.10 294.21 C55.77 290.40 58.43 289.89 61.10 288.50 C63.93 287.02 66.77 286.43 69.60 285.79 C73.60 284.88 77.60 284.77 81.60 284.43 C125.40 280.71 169.20 281.71 213.00 278.86 C220.90 278.34 228.80 277.78 236.70 277.21" fill="none" stroke="#9966cc" stroke-width="1.7" stroke-linecap="butt" stroke-linejoin="round" stroke-dasharray="1.5 1.7"/>
</g>
<path d="M42.75 493.20 L44.80 490.60 L46.85 493.20 L44.80 495.80 Z" fill="#9966cc"/>
<path d="M51.05 411.90 L53.10 409.30 L55.15 411.90 L53.10 414.50 Z" fill="#9966cc"/>
<path d="M59.05 403.90 L61.10 401.30 L63.15 403.90 L61.10 406.50 Z" fill="#9966cc"/>
<path d="M67.55 400.10 L69.60 397.50 L71.65 400.10 L69.60 402.70 Z" fill="#9966cc"/>
<path d="M79.55 398.20 L81.60 395.60 L83.65 398.20 L81.60 400.80 Z" fill="#9966cc"/>
<path d="M210.95 390.40 L213.00 387.80 L215.05 390.40 L213.00 393.00 Z" fill="#9966cc"/>
<path d="M234.65 388.10 L236.70 385.50 L238.75 388.10 L236.70 390.70 Z" fill="#9966cc"/>
<text x="301.30" y="357.30" font-size="11" font-weight="bold" fill="#0d0d0d" textLength="31.30" lengthAdjust="spacingAndGlyphs" stroke="#0d0d0d" stroke-width="0.06"><tspan font-style="italic">t</tspan> = 1 h</text>
<rect x="279.70" y="468.80" width="21.60" height="21.60" fill="#66ccff" stroke="#111" stroke-width="1.15"/>
<text x="289.20" y="479.90" font-size="9.6" text-anchor="middle" font-weight="bold" fill="#fff">25</text>
<rect x="308.10" y="428.70" width="21.60" height="61.70" fill="#9966cc" stroke="#111" stroke-width="1.15"/>
<text x="317.20" y="440.10" font-size="9.6" text-anchor="middle" font-weight="bold" fill="#fff">71</text>
<line x1="273.20" y1="374.75" x2="273.20" y2="491.15" stroke="#111" stroke-width="1.5" stroke-linecap="butt" />
<line x1="273.20" y1="490.40" x2="337.40" y2="490.40" stroke="#111" stroke-width="1.5" stroke-linecap="butt" />
<line x1="336.90" y1="491.15" x2="336.90" y2="488.00" stroke="#111" stroke-width="1" stroke-linecap="butt" />
<line x1="273.20" y1="490.40" x2="276.00" y2="490.40" stroke="#111" stroke-width="1.3" stroke-linecap="butt" />
<text x="268.80" y="494.35" font-size="11" text-anchor="end" stroke="#141414" stroke-width="0.16">0</text>
<line x1="273.20" y1="467.42" x2="276.00" y2="467.42" stroke="#111" stroke-width="1.3" stroke-linecap="butt" />
<text x="268.80" y="471.37" font-size="11" text-anchor="end" stroke="#141414" stroke-width="0.16">20</text>
<line x1="273.20" y1="444.44" x2="276.00" y2="444.44" stroke="#111" stroke-width="1.3" stroke-linecap="butt" />
<text x="268.80" y="448.39" font-size="11" text-anchor="end" stroke="#141414" stroke-width="0.16">40</text>
<line x1="273.20" y1="421.46" x2="276.00" y2="421.46" stroke="#111" stroke-width="1.3" stroke-linecap="butt" />
<text x="268.80" y="425.41" font-size="11" text-anchor="end" stroke="#141414" stroke-width="0.16">60</text>
<line x1="273.20" y1="398.48" x2="276.00" y2="398.48" stroke="#111" stroke-width="1.3" stroke-linecap="butt" />
<text x="268.80" y="402.43" font-size="11" text-anchor="end" stroke="#141414" stroke-width="0.16">80</text>
<line x1="273.20" y1="375.50" x2="276.00" y2="375.50" stroke="#111" stroke-width="1.3" stroke-linecap="butt" />
<text x="268.80" y="379.45" font-size="11" text-anchor="end" stroke="#141414" stroke-width="0.16">100</text>
<text x="389.90" y="357.20" font-size="11" font-weight="bold" fill="#0d0d0d" textLength="198.70" lengthAdjust="spacingAndGlyphs" stroke="#0d0d0d" stroke-width="0.06">Reduction of 4-phenyl-but-3-en-2-one</text>
<line x1="393.50" y1="379.00" x2="393.50" y2="493.40" stroke="#2e2e2e" stroke-width="0.85" stroke-linecap="butt" />
<line x1="393.10" y1="493.20" x2="585.00" y2="493.20" stroke="#2e2e2e" stroke-width="0.8" stroke-linecap="butt" />
<text x="390.20" y="496.95" font-size="11" text-anchor="end" stroke="#141414" stroke-width="0.16">0</text>
<text x="390.20" y="474.79" font-size="11" text-anchor="end" stroke="#141414" stroke-width="0.16">20</text>
<text x="390.20" y="452.63" font-size="11" text-anchor="end" stroke="#141414" stroke-width="0.16">40</text>
<text x="390.20" y="430.47" font-size="11" text-anchor="end" stroke="#141414" stroke-width="0.16">60</text>
<text x="390.20" y="408.31" font-size="11" text-anchor="end" stroke="#141414" stroke-width="0.16">80</text>
<text x="390.20" y="386.15" font-size="11" text-anchor="end" stroke="#141414" stroke-width="0.16">100</text>
<text x="397.60" y="505.40" font-size="11" text-anchor="middle" stroke="#141414" stroke-width="0.16">0</text>
<text x="426.00" y="505.40" font-size="11" text-anchor="middle" stroke="#141414" stroke-width="0.16">0.5</text>
<text x="460.70" y="505.40" font-size="11" text-anchor="middle" stroke="#141414" stroke-width="0.16">1</text>
<text x="488.90" y="505.40" font-size="11" text-anchor="middle" stroke="#141414" stroke-width="0.16">1.5</text>
<text x="522.70" y="505.40" font-size="11" text-anchor="middle" stroke="#141414" stroke-width="0.16">2</text>
<text x="551.40" y="505.40" font-size="11" text-anchor="middle" stroke="#141414" stroke-width="0.16">2.5</text>
<text x="582.40" y="505.40" font-size="11" text-anchor="middle" stroke="#141414" stroke-width="0.16">3</text>
<text x="446.90" y="520.00" font-size="11" textLength="84.70" lengthAdjust="spacingAndGlyphs" stroke="#141414" stroke-width="0.16">Reaction time (h)</text>
<text transform="translate(364.70 436.20) rotate(-90)" font-size="11" text-anchor="middle" stroke="#141414" stroke-width="0.16" textLength="76.2" lengthAdjust="spacingAndGlyphs">Conversion (%)</text>
<g transform="scale(1 1.4)">
<path d="M393.70 352.00 L415.40 312.36 L436.90 305.50 L458.10 305.50 L586.30 305.50" fill="none" stroke="#62c9f8" stroke-width="1.7" stroke-linecap="butt" stroke-linejoin="round" stroke-dasharray="1.5 1.7"/>
</g>
<path d="M391.65 492.80 L393.70 490.20 L395.75 492.80 L393.70 495.40 Z" fill="#62c9f8"/>
<path d="M413.35 437.30 L415.40 434.70 L417.45 437.30 L415.40 439.90 Z" fill="#62c9f8"/>
<path d="M434.85 427.70 L436.90 425.10 L438.95 427.70 L436.90 430.30 Z" fill="#62c9f8"/>
<path d="M456.05 427.70 L458.10 425.10 L460.15 427.70 L458.10 430.30 Z" fill="#62c9f8"/>
<path d="M584.25 427.70 L586.30 425.10 L588.35 427.70 L586.30 430.30 Z" fill="#62c9f8"/>
<g transform="scale(1 1.4)">
<path d="M393.70 352.00 L415.40 301.50 L436.90 297.71 L458.10 297.79 L586.30 297.79" fill="none" stroke="#9966cc" stroke-width="1.7" stroke-linecap="butt" stroke-linejoin="round" stroke-dasharray="1.5 1.7"/>
</g>
<path d="M391.65 492.80 L393.70 490.20 L395.75 492.80 L393.70 495.40 Z" fill="#9966cc"/>
<path d="M413.35 422.10 L415.40 419.50 L417.45 422.10 L415.40 424.70 Z" fill="#9966cc"/>
<path d="M434.85 416.80 L436.90 414.20 L438.95 416.80 L436.90 419.40 Z" fill="#9966cc"/>
<path d="M456.05 416.90 L458.10 414.30 L460.15 416.90 L458.10 419.50 Z" fill="#9966cc"/>
<path d="M584.25 416.90 L586.30 414.30 L588.35 416.90 L586.30 419.50 Z" fill="#9966cc"/>
<g transform="scale(1 1.4)">
<path d="M393.70 352.00 L415.40 291.00 L437.30 290.93 L458.20 290.93 L586.30 290.93" fill="none" stroke="#ffc000" stroke-width="1.85" stroke-linecap="round" stroke-linejoin="round" stroke-dasharray="4.5 6.65" stroke-dashoffset="1.45"/>
</g>
<path d="M391.65 492.80 L393.70 490.20 L395.75 492.80 L393.70 495.40 Z" fill="#ffc000"/>
<path d="M413.35 407.40 L415.40 404.80 L417.45 407.40 L415.40 410.00 Z" fill="#ffc000"/>
<path d="M435.25 407.30 L437.30 404.70 L439.35 407.30 L437.30 409.90 Z" fill="#ffc000"/>
<path d="M456.15 407.30 L458.20 404.70 L460.25 407.30 L458.20 409.90 Z" fill="#ffc000"/>
<path d="M584.25 407.30 L586.30 404.70 L588.35 407.30 L586.30 409.90 Z" fill="#ffc000"/>
<g transform="scale(1 1.4)">
<path d="M393.70 352.00 L415.40 293.57 L437.30 293.64 L458.20 293.64 L586.30 293.64" fill="none" stroke="#ff33ff" stroke-width="1.85" stroke-linecap="round" stroke-linejoin="round" stroke-dasharray="4.5 6.65" stroke-dashoffset="1.85"/>
</g>
<path d="M391.65 492.80 L393.70 490.20 L395.75 492.80 L393.70 495.40 Z" fill="#ff33ff"/>
<path d="M413.35 411.00 L415.40 408.40 L417.45 411.00 L415.40 413.60 Z" fill="#ff33ff"/>
<path d="M435.25 411.10 L437.30 408.50 L439.35 411.10 L437.30 413.70 Z" fill="#ff33ff"/>
<path d="M456.15 411.10 L458.20 408.50 L460.25 411.10 L458.20 413.70 Z" fill="#ff33ff"/>
<path d="M584.25 411.10 L586.30 408.50 L588.35 411.10 L586.30 413.70 Z" fill="#ff33ff"/>
<text x="641.00" y="356.90" font-size="11" font-weight="bold" fill="#0d0d0d" textLength="31.50" lengthAdjust="spacingAndGlyphs" stroke="#0d0d0d" stroke-width="0.06"><tspan font-style="italic">t</tspan> = 1 h</text>
<rect x="623.90" y="425.80" width="11.90" height="64.40" fill="#66ccff" stroke="#111" stroke-width="1.15"/>
<text x="629.40" y="437.10" font-size="9.6" text-anchor="middle" font-weight="bold" fill="#fff">57</text>
<rect x="638.80" y="414.80" width="12.50" height="75.40" fill="#9966cc" stroke="#111" stroke-width="1.15"/>
<text x="645.00" y="426.90" font-size="9.6" text-anchor="middle" font-weight="bold" fill="#fff">67</text>
<rect x="654.40" y="408.70" width="12.20" height="81.50" fill="#ff33ff" stroke="#111" stroke-width="1.15"/>
<text x="660.30" y="420.90" font-size="9.6" text-anchor="middle" font-weight="bold" fill="#fff">72</text>
<rect x="669.50" y="405.70" width="12.90" height="84.50" fill="#ffc000" stroke="#111" stroke-width="1.15"/>
<text x="675.90" y="417.80" font-size="9.6" text-anchor="middle" font-weight="bold" fill="#fff">75</text>
<line x1="620.80" y1="374.45" x2="620.80" y2="490.95" stroke="#111" stroke-width="1.5" stroke-linecap="butt" />
<line x1="620.80" y1="490.20" x2="685.50" y2="490.20" stroke="#111" stroke-width="1.5" stroke-linecap="butt" />
<line x1="620.80" y1="490.20" x2="623.60" y2="490.20" stroke="#111" stroke-width="1.3" stroke-linecap="butt" />
<text x="614.00" y="494.15" font-size="11" text-anchor="end" stroke="#141414" stroke-width="0.16">0</text>
<line x1="620.80" y1="467.20" x2="623.60" y2="467.20" stroke="#111" stroke-width="1.3" stroke-linecap="butt" />
<text x="614.00" y="471.15" font-size="11" text-anchor="end" stroke="#141414" stroke-width="0.16">20</text>
<line x1="620.80" y1="444.20" x2="623.60" y2="444.20" stroke="#111" stroke-width="1.3" stroke-linecap="butt" />
<text x="614.00" y="448.15" font-size="11" text-anchor="end" stroke="#141414" stroke-width="0.16">40</text>
<line x1="620.80" y1="421.20" x2="623.60" y2="421.20" stroke="#111" stroke-width="1.3" stroke-linecap="butt" />
<text x="614.00" y="425.15" font-size="11" text-anchor="end" stroke="#141414" stroke-width="0.16">60</text>
<line x1="620.80" y1="398.20" x2="623.60" y2="398.20" stroke="#111" stroke-width="1.3" stroke-linecap="butt" />
<text x="614.00" y="402.15" font-size="11" text-anchor="end" stroke="#141414" stroke-width="0.16">80</text>
<line x1="620.80" y1="375.20" x2="623.60" y2="375.20" stroke="#111" stroke-width="1.3" stroke-linecap="butt" />
<text x="614.00" y="379.15" font-size="11" text-anchor="end" stroke="#141414" stroke-width="0.16">100</text>
<rect x="6.5" y="535.5" width="640.0" height="51.0" fill="#f2f2f2" stroke="#484848" stroke-width="1"/>
<circle cx="48.00" cy="548.0" r="2.15" fill="#62c9f8"/>
<circle cx="364.60" cy="548.0" r="2.15" fill="#9966cc"/>
<circle cx="55.70" cy="548.0" r="2.15" fill="#62c9f8"/>
<circle cx="372.32" cy="548.0" r="2.15" fill="#9966cc"/>
<circle cx="63.40" cy="548.0" r="2.15" fill="#62c9f8"/>
<circle cx="380.04" cy="548.0" r="2.15" fill="#9966cc"/>
<circle cx="71.10" cy="548.0" r="2.15" fill="#62c9f8"/>
<circle cx="387.76" cy="548.0" r="2.15" fill="#9966cc"/>
<circle cx="78.80" cy="548.0" r="2.15" fill="#62c9f8"/>
<circle cx="395.48" cy="548.0" r="2.15" fill="#9966cc"/>
<circle cx="86.50" cy="548.0" r="2.15" fill="#62c9f8"/>
<circle cx="403.20" cy="548.0" r="2.15" fill="#9966cc"/>
<circle cx="94.20" cy="548.0" r="2.15" fill="#62c9f8"/>
<circle cx="410.92" cy="548.0" r="2.15" fill="#9966cc"/>
<line x1="47.65" y1="573.8" x2="50.65" y2="573.8" stroke="#ff33ff" stroke-width="2.9" stroke-linecap="round"/>
<line x1="61.25" y1="573.8" x2="65.85" y2="573.8" stroke="#ff33ff" stroke-width="2.9" stroke-linecap="round"/>
<line x1="76.25" y1="573.8" x2="80.95" y2="573.8" stroke="#ff33ff" stroke-width="2.9" stroke-linecap="round"/>
<line x1="91.35" y1="573.8" x2="94.45" y2="573.8" stroke="#ff33ff" stroke-width="2.9" stroke-linecap="round"/>
<line x1="364.45" y1="573.8" x2="367.55" y2="573.8" stroke="#ffcc00" stroke-width="2.9" stroke-linecap="round"/>
<line x1="377.55" y1="573.8" x2="382.65" y2="573.8" stroke="#ffcc00" stroke-width="2.9" stroke-linecap="round"/>
<line x1="392.95" y1="573.8" x2="397.75" y2="573.8" stroke="#ffcc00" stroke-width="2.9" stroke-linecap="round"/>
<line x1="408.05" y1="573.8" x2="411.05" y2="573.8" stroke="#ffcc00" stroke-width="2.9" stroke-linecap="round"/>
<text x="199.60" y="551.00" font-size="10" textLength="46.00" lengthAdjust="spacingAndGlyphs" stroke="#141414" stroke-width="0.08">Buffer only</text>
<text x="124.90" y="577.00" font-size="10" textLength="126.00" lengthAdjust="spacingAndGlyphs" stroke="#141414" stroke-width="0.08">4 wt % TPGS-750-M in buffer</text>
<text x="419.60" y="551.80" font-size="10" textLength="125.60" lengthAdjust="spacingAndGlyphs" stroke="#141414" stroke-width="0.08">2 wt % TPGS-750-M in buffer</text>
<text x="419.60" y="577.60" font-size="10" textLength="125.60" lengthAdjust="spacingAndGlyphs" stroke="#141414" stroke-width="0.08">6 wt % TPGS-750-M in buffer</text>
<rect x="275.5" y="540.1" width="16" height="16" fill="#66ccff" stroke="#141414" stroke-width="1.2"/>
<rect x="275.5" y="565.7" width="16" height="16" fill="#ff33ff" stroke="#141414" stroke-width="1.2"/>
<rect x="588.4" y="540.1" width="16" height="16" fill="#9966cc" stroke="#141414" stroke-width="1.2"/>
<rect x="588.4" y="565.7" width="16" height="16" fill="#ffcc00" stroke="#141414" stroke-width="1.2"/>
</svg>
</body></html>
